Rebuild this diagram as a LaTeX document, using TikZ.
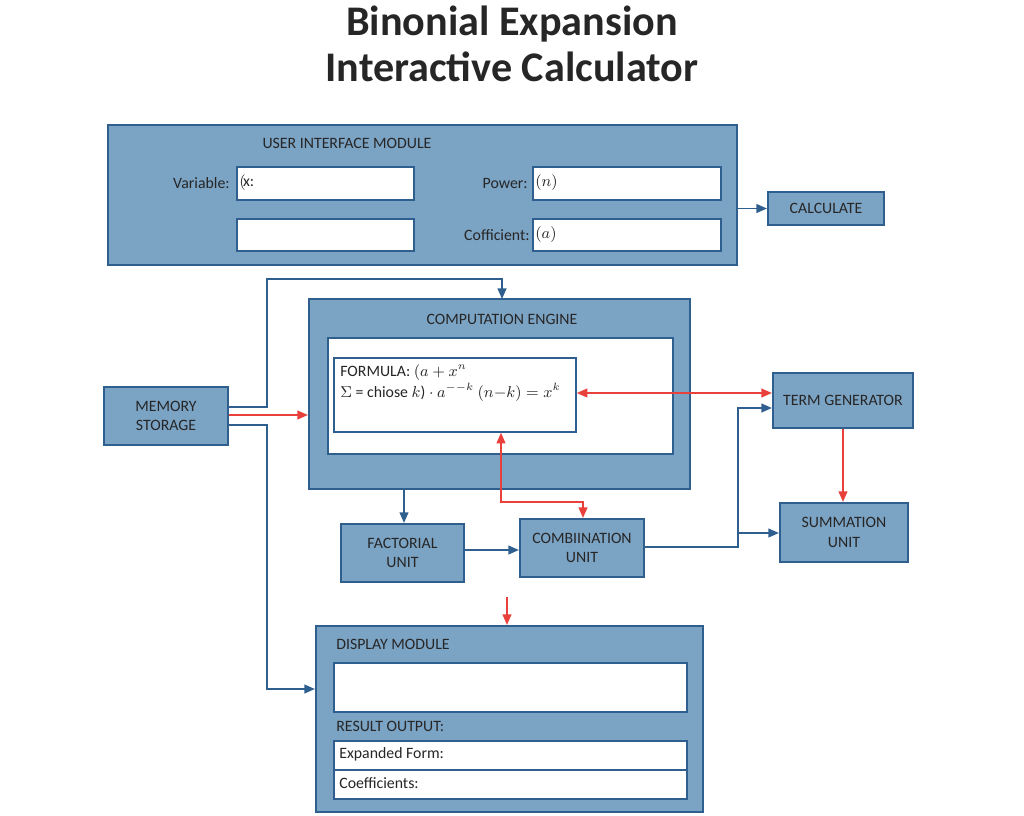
\documentclass[tikz,border=0pt]{standalone}
\usepackage{fontspec}
\setmainfont{Carlito}
\usetikzlibrary{arrows.meta}
\definecolor{boxfill}{HTML}{7BA3C4}
\definecolor{boxline}{HTML}{2F5F8F}
\definecolor{flowred}{HTML}{E8413C}
\definecolor{inktext}{HTML}{262626}
\tikzset{
  blk/.style={draw=boxline, line width=1.2pt, fill=boxfill, text=inktext, font=\fontsize{9}{11}\selectfont, align=center, inner sep=0pt},
  field/.style={draw=boxline, line width=1pt, fill=white, text=inktext, font=\fontsize{9}{11}\selectfont, inner sep=3pt},
  lbl/.style={text=inktext, font=\fontsize{9}{11}\selectfont, inner sep=0pt},
  blue/.style={draw=boxline, line width=0.9pt, -{Triangle[length=6pt,width=5pt]}},
  red/.style={draw=flowred, line width=0.9pt, -{Triangle[length=6pt,width=5pt]}},
  redboth/.style={draw=flowred, line width=0.9pt, {Triangle[length=6pt,width=5pt]}-{Triangle[length=6pt,width=5pt]}}
}
\begin{document}
\begin{tikzpicture}[x=0.02cm, y=-0.02cm]
\useasboundingbox (0,0) rectangle (1024,815);
\node[text=inktext, font=\bfseries\fontsize{24}{26}\selectfont, align=center] (title) at (512,44) {Binonial Expansion\\Interactive Calculator};

% user interface
\node[blk, minimum width=629*0.02cm, minimum height=140*0.02cm] (ui) at (422.5,195) {};
\node[lbl] (uititle) at (347,143) {USER INTERFACE MODULE};
\node[field, minimum width=177*0.02cm, minimum height=33*0.02cm, anchor=north west] (varbox) at (236,166) {};
\node[lbl, anchor=west] at (239,183) {$($\!x:};
\node[lbl, anchor=east] (varlbl) at (230,183) {Variable:};
\node[field, minimum width=177*0.02cm, minimum height=32*0.02cm, anchor=north west] (blankbox) at (236,218) {};
\node[field, minimum width=188*0.02cm, minimum height=33*0.02cm, anchor=north west] (powbox) at (532,166) {};
\node[lbl, anchor=west] at (535,183) {$(n)$};
\node[lbl, anchor=east] (powlbl) at (528,183) {Power:};
\node[field, minimum width=188*0.02cm, minimum height=32*0.02cm, anchor=north west] (coefbox) at (532,218) {};
\node[lbl, anchor=west] at (535,235) {$(a)$};
\node[lbl, anchor=east] (coeflbl) at (530,235) {Cofficient:};
\node[blk, minimum width=116*0.02cm, minimum height=33*0.02cm] (calc) at (826,208.5) {CALCULATE};

% computation engine
\node[blk, minimum width=381*0.02cm, minimum height=190*0.02cm] (engine) at (499.5,394) {};
\node[lbl] at (502,319) {COMPUTATION ENGINE};
\node[field, minimum width=345*0.02cm, minimum height=116*0.02cm, anchor=north west] (inner) at (327,337) {};
\node[field, minimum width=242*0.02cm, minimum height=74*0.02cm, anchor=north west] (formula) at (333,357) {};
\node[lbl, anchor=north west, align=left] at (340,364) {FORMULA: $(a+x^n$\\[1pt]$\Sigma$ = chiose $k$) $\cdot$ $a^{--k}$ $(n{-}k)=x^k$};

\node[blk, minimum width=124*0.02cm, minimum height=58*0.02cm] (memory) at (166,416) {MEMORY\\STORAGE};
\node[blk, minimum width=140*0.02cm, minimum height=55*0.02cm] (term) at (843,400.5) {TERM GENERATOR};
\node[blk, minimum width=128*0.02cm, minimum height=59*0.02cm] (summ) at (844,532.5) {SUMMATION\\UNIT};
\node[blk, minimum width=123*0.02cm, minimum height=58*0.02cm] (fact) at (402.5,553) {FACTORIAL\\UNIT};
\node[blk, minimum width=124*0.02cm, minimum height=58*0.02cm] (comb) at (582,548) {COMBIINATION\\UNIT};

% display module
\node[blk, minimum width=387*0.02cm, minimum height=186*0.02cm] (display) at (509.5,719) {};
\node[lbl, anchor=west] at (336,644) {DISPLAY MODULE};
\node[field, minimum width=353*0.02cm, minimum height=49*0.02cm, anchor=north west] (outbox) at (333,662) {};
\node[lbl, anchor=west] at (336,726) {RESULT OUTPUT:};
\node[field, minimum width=353*0.02cm, minimum height=29*0.02cm, anchor=north west] (expbox) at (333,740) {};
\node[lbl, anchor=west] at (339,754.5) {Expanded Form:};
\node[field, minimum width=353*0.02cm, minimum height=29*0.02cm, anchor=north west] (cfbox) at (333,769) {};
\node[lbl, anchor=west] at (339,783.5) {Coefficients:};
\coordinate (redtop) at (507,597);

% connectors
\draw[blue] (ui.east |- calc) -- (calc.west);
\draw[blue] (memory.east |- 0,407) -- (267,407) -- (267,279) -- (502,279) -- (502,299);
\draw[red] (memory.east |- 0,415) -- (engine.west |- 0,415);
\draw[blue] (memory.east |- 0,425) -- (267,425) -- (267,689) -- (display.west |- 0,689);
\draw[redboth] (formula.east |- 0,393) -- (term.west |- 0,393);
\draw[red] (term.south) -- (summ.north -| term.south);
\draw[blue] (404,489) -- (fact.north -| 404,0);
\draw[redboth] (formula.south -| 501,0) -- (501,502) -- (583,502) -- (comb.north -| 583,0);
\draw[blue] (fact.east |- 0,550) -- (comb.west |- 0,550);
\draw[blue] (comb.east |- 0,547) -- (738,547) -- (738,408) -- (term.west |- 0,408);
\draw[blue] (738,533) -- (summ.west |- 0,533);
\draw[red] (redtop) -- (display.north -| redtop);
\end{tikzpicture}
\end{document}
